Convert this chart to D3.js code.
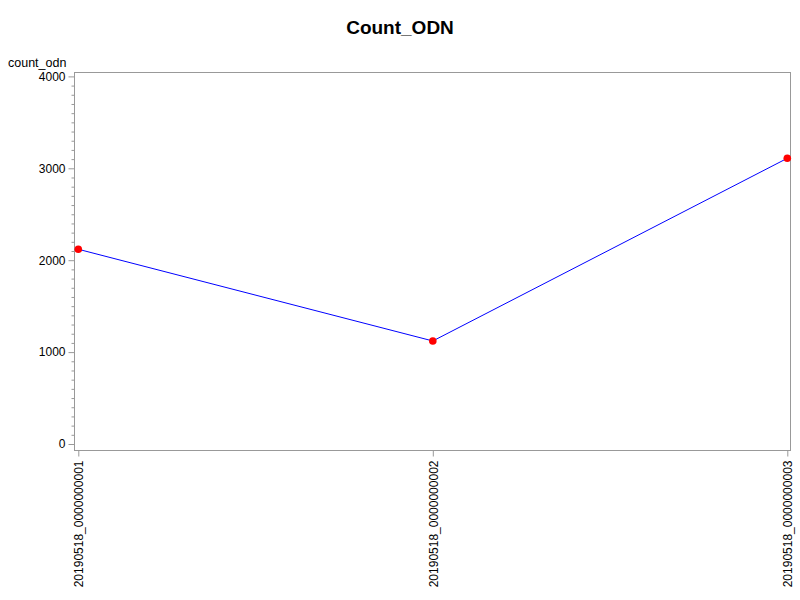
<!DOCTYPE html>
<html>
<head>
<meta charset="utf-8">
<script src="https://cdn.jsdelivr.net/npm/d3@7"></script>
<style>
  body { margin: 0; background: #fff; }
  text { font-family: "Liberation Sans", Arial, sans-serif; }
</style>
</head>
<body>
<div id="chart"></div>
<script>
// data
var categories = ["20190518_0000000001", "20190518_0000000002", "20190518_0000000003"];
var counts = [2119, 1121, 3109];
var yTicks = [0, 1000, 2000, 3000, 4000];

var width = 800, height = 600;
var plotLeft = 74, plotRight = 790, plotTop = 72, plotBottom = 450;

var svg = d3.select("#chart").append("svg")
  .attr("width", width)
  .attr("height", height);

var x = d3.scalePoint().domain(categories).range([plotLeft + 4.3, plotRight - 2.7]);
var y = d3.scaleLinear().domain([0, 4000]).range([444, 76.4]);

// title
svg.append("text")
  .attr("x", width / 2).attr("y", 34)
  .attr("text-anchor", "middle")
  .style("font-size", "19px").style("font-weight", "bold")
  .text("Count_ODN");

// y axis label
svg.append("text")
  .attr("x", 8).attr("y", 67)
  .style("font-size", "12.5px")
  .text("count_odn");

// frame
svg.append("rect")
  .attr("x", plotLeft + 0.5).attr("y", plotTop + 0.5)
  .attr("width", plotRight - plotLeft).attr("height", plotBottom - plotTop)
  .attr("fill", "none").attr("stroke", "#999");

// minor y ticks
var minor = d3.range(0, 4001, 100).filter(function(d) { return d % 1000 !== 0; });
svg.append("g")
  .attr("transform", "translate(" + (plotLeft + 0.5) + ",0)")
  .call(d3.axisLeft(y).tickValues(minor).tickSize(3).tickFormat(""))
  .call(function(g) {
    g.select(".domain").remove();
    g.selectAll("line").attr("stroke", "#999");
  });

// major y ticks
svg.append("g")
  .attr("transform", "translate(" + (plotLeft + 0.5) + ",0)")
  .call(d3.axisLeft(y).tickValues(yTicks).tickSize(6).tickPadding(3).tickFormat(d3.format("d")))
  .call(function(g) {
    g.select(".domain").remove();
    g.selectAll("line").attr("stroke", "#999");
    g.selectAll("text").style("font-size", "12px").attr("fill", "#000")
      .style("font-family", '"Liberation Sans", Arial, sans-serif');
  });

// x axis
svg.append("g")
  .attr("transform", "translate(0," + (plotBottom + 0.5) + ")")
  .call(d3.axisBottom(x).tickSize(6).tickSizeOuter(0))
  .call(function(g) {
    g.select(".domain").remove();
    g.selectAll("line").attr("stroke", "#999");
    g.selectAll("text")
      .style("font-size", "12px").attr("fill", "#000")
      .style("font-family", '"Liberation Sans", Arial, sans-serif')
      .attr("transform", "rotate(-90)")
      .attr("text-anchor", "end")
      .attr("x", -10).attr("y", 0).attr("dy", "0.35em");
  });

// line
var line = d3.line()
  .x(function(d, i) { return x(categories[i]); })
  .y(function(d) { return y(d); });

svg.append("path")
  .datum(counts)
  .attr("d", line)
  .attr("fill", "none")
  .attr("stroke", "#0000ff")
  .attr("stroke-width", 1);

svg.selectAll("circle.pt")
  .data(counts)
  .enter().append("circle")
  .attr("class", "pt")
  .attr("cx", function(d, i) { return x(categories[i]); })
  .attr("cy", function(d) { return y(d); })
  .attr("r", 3.8)
  .attr("fill", "#ff0000");
</script>
</body>
</html>
